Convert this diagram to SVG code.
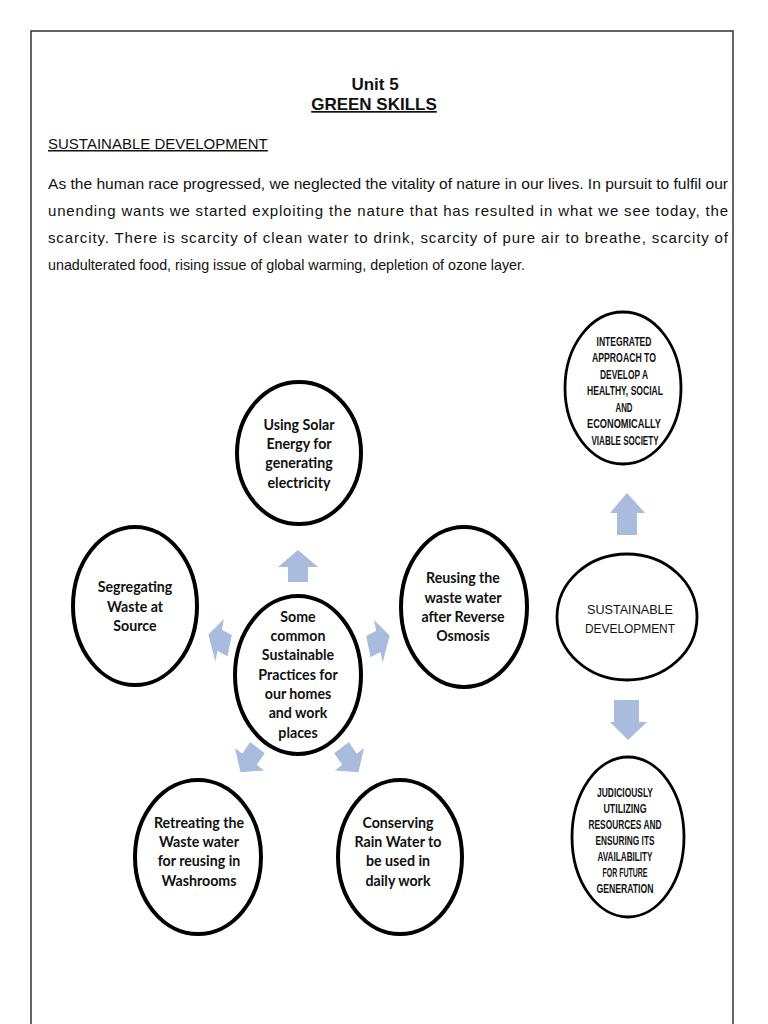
<svg xmlns="http://www.w3.org/2000/svg" width="768" height="1024" viewBox="0 0 768 1024">
<style>
.hd{font-family:"Liberation Sans",Arial,sans-serif;fill:#111}
.p{font-family:"Liberation Sans",Arial,sans-serif;font-size:15px;fill:#111}
.c{font-family:Lato,"Noto Sans",sans-serif;font-weight:700;font-size:14.2px;fill:#111;text-anchor:middle}
.r{font-family:"Liberation Sans",Arial,sans-serif;font-size:12.5px;fill:#111;text-anchor:middle}
.rb{font-weight:700}
.e{fill:#fff;stroke:#000;stroke-width:4}
.e2{fill:#fff;stroke:#000;stroke-width:2.8}
.ar{fill:#a9bcdd}
</style>
<defs>
<polygon id="arw" points="0,-16 20,1 10,1 10,16 -10,16 -10,1 -20,1"/>
</defs>
<rect x="0" y="0" width="768" height="1024" fill="#fff"/>
<rect x="31" y="31" width="702" height="1010" fill="none" stroke="#333" stroke-width="1.5"/>
<g id="header">
<text class="hd" x="375" y="90" font-size="17" font-weight="700" text-anchor="middle">Unit 5</text>
<text class="hd" x="374" y="110" font-size="17" font-weight="700" text-anchor="middle" text-decoration="underline">GREEN SKILLS</text>
<text class="hd" x="48" y="149" font-size="15" text-decoration="underline">SUSTAINABLE DEVELOPMENT</text>
<text class="p" x="48" y="189" textLength="680" lengthAdjust="spacingAndGlyphs">As the human race progressed, we neglected the vitality of nature in our lives. In pursuit to fulfil our</text>
<text class="p" x="48" y="216" textLength="680" lengthAdjust="spacing">unending wants we started exploiting the nature that has resulted in what we see today, the</text>
<text class="p" x="48" y="243" textLength="680" lengthAdjust="spacing">scarcity. There is scarcity of clean water to drink, scarcity of pure air to breathe, scarcity of</text>
<text class="p" x="48" y="270" textLength="477" lengthAdjust="spacingAndGlyphs">unadulterated food, rising issue of global warming, depletion of ozone layer.</text>
</g>
<g id="connectors">
<polygon class="ar" points="298,550 318,567 308,567 308,582 288,582 288,567 278,567"/>
<use href="#arw" class="ar" transform="translate(219,640) scale(0.7,1.12) rotate(-72)"/>
<use href="#arw" class="ar" transform="translate(379,641) scale(0.7,1.12) rotate(72)"/>
<use href="#arw" class="ar" transform="translate(249,760) scale(0.9,0.95) rotate(-144)"/>
<use href="#arw" class="ar" transform="translate(350,760) scale(0.9,0.95) rotate(144)"/>
<polygon class="ar" points="627,493 645,513 637,513 637,535 617,535 617,513 610,513"/>
<polygon class="ar" points="614,700 639,700 639,722 647,722 628,740 610,722 614,722"/>
</g>
<g id="solar">
<ellipse class="e" cx="299" cy="453" rx="62" ry="71"/>
<text class="c" x="299" y="430">Using Solar</text>
<text class="c" x="299" y="449">Energy for</text>
<text class="c" x="299" y="468">generating</text>
<text class="c" x="299" y="488">electricity</text>
</g>
<g id="center">
<ellipse class="e" cx="298" cy="675" rx="63" ry="79"/>
<text class="c" x="298" y="622">Some</text>
<text class="c" x="298" y="641">common</text>
<text class="c" x="298" y="660">Sustainable</text>
<text class="c" x="298" y="680">Practices for</text>
<text class="c" x="298" y="699">our homes</text>
<text class="c" x="298" y="718">and work</text>
<text class="c" x="298" y="738">places</text>
</g>
<g id="segregating">
<ellipse class="e" cx="135" cy="606" rx="62" ry="79"/>
<text class="c" x="135" y="592">Segregating</text>
<text class="c" x="135" y="612">Waste at</text>
<text class="c" x="135" y="631">Source</text>
</g>
<g id="reusing">
<ellipse class="e" cx="464" cy="607" rx="63" ry="80"/>
<text class="c" x="463" y="583">Reusing the</text>
<text class="c" x="463" y="603">waste water</text>
<text class="c" x="463" y="622">after Reverse</text>
<text class="c" x="463" y="641">Osmosis</text>
</g>
<g id="retreating">
<ellipse class="e" cx="198" cy="857" rx="63" ry="77"/>
<text class="c" x="199" y="828">Retreating the</text>
<text class="c" x="199" y="847">Waste water</text>
<text class="c" x="199" y="866">for reusing in</text>
<text class="c" x="199" y="886">Washrooms</text>
</g>
<g id="conserving">
<ellipse class="e" cx="400" cy="857" rx="62" ry="77"/>
<text class="c" x="398" y="828">Conserving</text>
<text class="c" x="398" y="847">Rain Water to</text>
<text class="c" x="398" y="866">be used in</text>
<text class="c" x="398" y="886">daily work</text>
</g>
<g id="integrated">
<ellipse class="e2" cx="623" cy="388" rx="58" ry="76"/>
<text class="r rb" x="624" y="345.5" textLength="55" lengthAdjust="spacingAndGlyphs">INTEGRATED</text>
<text class="r rb" x="624" y="362" textLength="64" lengthAdjust="spacingAndGlyphs">APPROACH TO</text>
<text class="r rb" x="624" y="378.5" textLength="48" lengthAdjust="spacingAndGlyphs">DEVELOP A</text>
<text class="r rb" x="625" y="395" textLength="76" lengthAdjust="spacingAndGlyphs">HEALTHY, SOCIAL</text>
<text class="r rb" x="624" y="411.5" textLength="17" lengthAdjust="spacingAndGlyphs">AND</text>
<text class="r rb" x="624" y="428" textLength="74" lengthAdjust="spacingAndGlyphs">ECONOMICALLY</text>
<text class="r rb" x="625" y="444.5" textLength="67" lengthAdjust="spacingAndGlyphs">VIABLE SOCIETY</text>
</g>
<g id="sustainable">
<ellipse class="e2" cx="627" cy="617" rx="70" ry="63" stroke-width="3.2"/>
<text class="r" x="630" y="614" font-size="18" textLength="86" lengthAdjust="spacingAndGlyphs">SUSTAINABLE</text>
<text class="r" x="630" y="633" font-size="18" textLength="90" lengthAdjust="spacingAndGlyphs">DEVELOPMENT</text>
</g>
<g id="judicious">
<ellipse class="e2" cx="628" cy="837" rx="56" ry="80"/>
<text class="r rb" x="625" y="796.5" textLength="56" lengthAdjust="spacingAndGlyphs">JUDICIOUSLY</text>
<text class="r rb" x="625" y="812.5" textLength="43" lengthAdjust="spacingAndGlyphs">UTILIZING</text>
<text class="r rb" x="625" y="828.5" textLength="73" lengthAdjust="spacingAndGlyphs">RESOURCES AND</text>
<text class="r rb" x="625" y="844.5" textLength="59" lengthAdjust="spacingAndGlyphs">ENSURING ITS</text>
<text class="r rb" x="625" y="860.5" textLength="55" lengthAdjust="spacingAndGlyphs">AVAILABILITY</text>
<text class="r rb" x="625" y="876.5" textLength="45" lengthAdjust="spacingAndGlyphs">FOR FUTURE</text>
<text class="r rb" x="625" y="892.5" textLength="57" lengthAdjust="spacingAndGlyphs">GENERATION</text>
</g>
</svg>
